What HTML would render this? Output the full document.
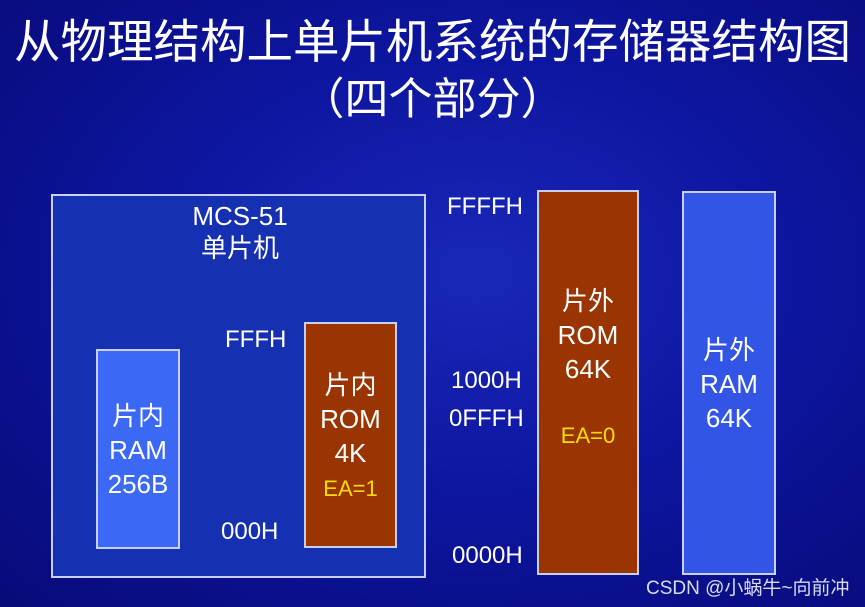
<!DOCTYPE html>
<html><head><meta charset="utf-8"><style>
body{margin:0;width:865px;height:607px;overflow:hidden;background:radial-gradient(ellipse at 55% 45%,#1a28b8 0%,#0d16a0 45%,#070a78 100%);font-family:"Liberation Sans","Noto Sans CJK SC",sans-serif;color:#fff;position:relative}
.a{position:absolute}
.t{text-align:center;white-space:nowrap}
.box{position:absolute;box-sizing:border-box;border:2px solid #c8cff0}
.lbl{position:absolute;font-size:24px;color:#fff;white-space:nowrap}
.in{position:absolute;left:0;right:0;text-align:center;font-size:26px;line-height:34px}
</style></head><body>
<div class="a t" style="left:0;width:865px;top:10px;font-size:46.5px;line-height:58px;font-family:'Noto Sans CJK SC',sans-serif;">从物理结构上单片机系统的存储器结构图</div>
<div class="a t" style="left:0;width:865px;top:67px;font-size:44px;line-height:56px;font-family:'Noto Sans CJK SC',sans-serif;">（四个部分）</div>

<div class="box" style="left:51px;top:194px;width:375px;height:384px;background:#1530b0;"></div>
<div class="a t" style="left:140px;width:200px;top:200px;font-size:26px;line-height:32px;">MCS-51<br>单片机</div>

<div class="box" style="left:96px;top:349px;width:84px;height:200px;background:#3b68f5;">
<div class="in" style="top:48px">片内<br>RAM<br>256B</div></div>
<div class="box" style="left:304px;top:322px;width:93px;height:226px;background:#9a3400;">
<div class="in" style="top:44px">片内<br>ROM<br>4K<br><span style="color:#ffdd00;font-size:22px">EA=1</span></div></div>
<div class="lbl" style="left:225px;top:326px">FFFH</div>
<div class="lbl" style="left:221px;top:518px">000H</div>

<div class="box" style="left:537px;top:190px;width:102px;height:385px;background:#9a3400;">
<div class="in" style="top:92px">片外<br>ROM<br>64K<br><span style="color:#ffdd00;font-size:22px;line-height:100px">EA=0</span></div></div>
<div class="box" style="left:682px;top:191px;width:94px;height:384px;background:#3355e6;">
<div class="in" style="top:140px">片外<br>RAM<br>64K</div></div>
<div class="lbl" style="left:447px;top:193px">FFFFH</div>
<div class="lbl" style="left:451px;top:367px">1000H</div>
<div class="lbl" style="left:449px;top:405px">0FFFH</div>
<div class="lbl" style="left:452px;top:542px">0000H</div>

<div class="a" style="left:646px;top:573px;font-size:19px;color:#d8dcf0;white-space:nowrap">CSDN @小蜗牛~向前冲</div>
</body></html>
